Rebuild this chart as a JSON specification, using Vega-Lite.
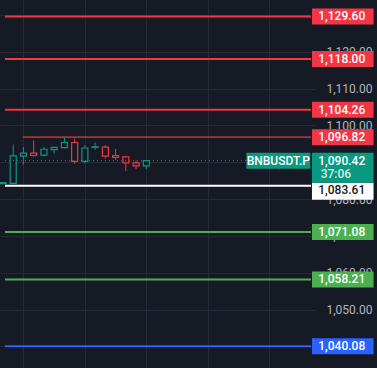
{
  "$schema": "https://vega.github.io/schema/vega-lite/v6.json",
  "width": 316,
  "height": 368,
  "autosize": {"type": "none"},
  "padding": {"left": 0, "top": 0, "right": 61, "bottom": 0},
  "background": "#161a25",
  "config": {"view": {"stroke": null}, "font": "Roboto"},
  "datasets": {
    "candles": [
      {"i": 0, "o": 1084.2, "h": 1084.5, "l": 1084.1, "c": 1084.45},
      {"i": 1, "o": 1084.28, "h": 1094.85, "l": 1084.2, "c": 1091.76},
      {"i": 2, "o": 1091.68, "h": 1094.13, "l": 1089.38, "c": 1092.47},
      {"i": 3, "o": 1092.47, "h": 1095.98, "l": 1091.49, "c": 1091.84},
      {"i": 4, "o": 1091.94, "h": 1094.13, "l": 1091.57, "c": 1093.53},
      {"i": 5, "o": 1093.42, "h": 1094.13, "l": 1092.36, "c": 1094.05},
      {"i": 6, "o": 1093.95, "h": 1096.77, "l": 1093.79, "c": 1095.37},
      {"i": 7, "o": 1095.37, "h": 1096.43, "l": 1089.57, "c": 1090.25},
      {"i": 8, "o": 1090.25, "h": 1094.66, "l": 1089.72, "c": 1093.87},
      {"i": 9, "o": 1094.05, "h": 1095.37, "l": 1093.42, "c": 1094.2},
      {"i": 10, "o": 1094.13, "h": 1094.66, "l": 1090.97, "c": 1091.68},
      {"i": 11, "o": 1091.84, "h": 1093.61, "l": 1090.62, "c": 1091.31},
      {"i": 12, "o": 1091.49, "h": 1091.55, "l": 1087.61, "c": 1089.83},
      {"i": 13, "o": 1089.83, "h": 1090.44, "l": 1088.14, "c": 1089.04},
      {"i": 14, "o": 1089.04, "h": 1090.45, "l": 1088.14, "c": 1090.42}
    ],
    "levels": [
      {"price": 1129.60, "kind": "resistance"},
      {"price": 1118.00, "kind": "resistance"},
      {"price": 1104.26, "kind": "resistance"},
      {"price": 1096.82, "kind": "resistance"},
      {"price": 1083.61, "kind": "pivot"},
      {"price": 1071.08, "kind": "support"},
      {"price": 1058.21, "kind": "support"},
      {"price": 1040.08, "kind": "target"}
    ],
    "current": [
      {"price": 1090.42, "symbol": "BNBUSDT.P", "countdown": "37:06"}
    ]
  },
  "layer": [
    {
      "data": {"name": "candles"},
      "mark": {"type": "rule", "strokeWidth": 1, "clip": true},
      "encoding": {
        "x": {"field": "i", "type": "quantitative", "title": null,
              "scale": {"domain": [0.196, 30.09], "nice": false, "zero": false},
              "axis": {"grid": true, "values": [2, 8, 14, 20, 26], "labels": false, "ticks": false, "domain": false, "title": null, "gridColor": "#262a36", "gridWidth": 1}},
        "y": {"field": "l", "type": "quantitative", "title": null,
              "scale": {"domain": [1035.51, 1132.69], "nice": false, "zero": false},
              "axis": {"orient": "right", "values": [1040, 1050, 1060, 1070, 1080, 1090, 1100, 1110, 1120, 1130], "format": ",.2f", "labelExpr": "datum.value == 1040 || datum.value == 1090 || datum.value == 1130 ? '' : datum.label", "labelAlign": "right", "labelPadding": 56, "labelColor": "#b2b5be", "labelFontSize": 12, "labelFont": "Roboto", "labelBaseline": "middle", "ticks": false, "domain": false, "title": null, "grid": true, "gridColor": "#262a36", "gridWidth": 1, "labelOverlap": false, "labelBound": false, "labelFlush": false}},
        "y2": {"field": "h"},
        "stroke": {"condition": {"test": "datum.c >= datum.o", "value": "#089981"}, "value": "#f23645"}
      }
    },
    {
      "data": {"name": "candles"},
      "mark": {"type": "bar", "width": 6, "strokeWidth": 1.2, "fill": "#161a25", "clip": true},
      "encoding": {
        "x": {"field": "i", "type": "quantitative", "title": null},
        "y": {"field": "o", "type": "quantitative", "title": null},
        "y2": {"field": "c"},
        "stroke": {"condition": {"test": "datum.c >= datum.o", "value": "#089981"}, "value": "#f23645"}
      }
    },
    {
      "data": {"name": "current"},
      "mark": {"type": "rule", "strokeWidth": 1, "strokeDash": [1, 3], "color": "#089981"},
      "encoding": {
        "x": {"datum": 0.196, "type": "quantitative", "title": null},
        "x2": {"datum": 30.09},
        "y": {"field": "price", "type": "quantitative", "title": null}
      }
    },
    {
      "data": {"name": "levels"},
      "transform": [{"filter": "datum.price != 1096.82"}],
      "mark": {"type": "rule", "strokeWidth": 2},
      "encoding": {
        "x": {"datum": 0.196, "type": "quantitative", "title": null},
        "x2": {"datum": 30.09},
        "y": {"field": "price", "type": "quantitative", "title": null},
        "stroke": {"field": "kind", "type": "nominal", "scale": {"domain": ["resistance", "pivot", "support", "target"], "range": ["#f23645", "#ffffff", "#4caf50", "#2962ff"]}, "legend": null}
      }
    },
    {
      "data": {"name": "levels"},
      "transform": [{"filter": "datum.price == 1096.82"}],
      "mark": {"type": "rule", "strokeWidth": 1.2},
      "encoding": {
        "x": {"datum": 1.927, "type": "quantitative", "title": null},
        "x2": {"datum": 30.09},
        "y": {"field": "price", "type": "quantitative", "title": null},
        "stroke": {"field": "kind", "type": "nominal", "scale": {"domain": ["resistance", "pivot", "support", "target"], "range": ["#f23645", "#ffffff", "#4caf50", "#2962ff"]}, "legend": null}
      }
    },
    {
      "data": {"name": "levels"},
      "transform": [{"filter": "datum.kind != 'pivot'"}],
      "mark": {"type": "bar", "height": 16},
      "encoding": {
        "x": {"datum": 30.185, "type": "quantitative", "title": null},
        "x2": {"datum": 36.2},
        "y": {"field": "price", "type": "quantitative", "title": null},
        "fill": {"field": "kind", "type": "nominal", "scale": {"domain": ["resistance", "pivot", "support", "target"], "range": ["#f23645", "#ffffff", "#4caf50", "#2962ff"]}, "legend": null}
      }
    },
    {
      "data": {"name": "levels"},
      "transform": [{"filter": "datum.kind != 'pivot'"}],
      "mark": {"type": "text", "align": "right", "baseline": "middle", "fontSize": 12, "font": "Roboto", "fontWeight": 500, "fill": "#ffffff"},
      "encoding": {
        "x": {"datum": 35.388, "type": "quantitative", "title": null},
        "y": {"field": "price", "type": "quantitative", "title": null},
        "text": {"field": "price", "type": "quantitative", "format": ",.2f"}
      }
    },
    {
      "data": {"name": "levels"},
      "transform": [{"filter": "datum.kind == 'pivot'"}],
      "mark": {"type": "bar", "height": 17, "yOffset": 5.5, "fill": "#ffffff"},
      "encoding": {
        "x": {"datum": 30.185, "type": "quantitative", "title": null},
        "x2": {"datum": 36.2},
        "y": {"field": "price", "type": "quantitative", "title": null}
      }
    },
    {
      "data": {"name": "levels"},
      "transform": [{"filter": "datum.kind == 'pivot'"}],
      "mark": {"type": "text", "align": "right", "baseline": "middle", "fontSize": 12, "font": "Roboto", "fontWeight": 500, "fill": "#131722", "dy": 4.5},
      "encoding": {
        "x": {"datum": 35.388, "type": "quantitative", "title": null},
        "y": {"field": "price", "type": "quantitative", "title": null},
        "text": {"field": "price", "type": "quantitative", "format": ",.2f"}
      }
    },
    {
      "data": {"name": "current"},
      "mark": {"type": "bar", "height": 16, "fill": "#089981"},
      "encoding": {
        "x": {"datum": 23.78, "type": "quantitative", "title": null},
        "x2": {"datum": 30.024},
        "y": {"field": "price", "type": "quantitative", "title": null}
      }
    },
    {
      "data": {"name": "current"},
      "mark": {"type": "bar", "height": 30, "yOffset": 7, "fill": "#089981"},
      "encoding": {
        "x": {"datum": 30.185, "type": "quantitative", "title": null},
        "x2": {"datum": 36.2},
        "y": {"field": "price", "type": "quantitative", "title": null}
      }
    },
    {
      "data": {"name": "current"},
      "mark": {"type": "text", "align": "center", "baseline": "middle", "fontSize": 12, "font": "Roboto", "fontWeight": 500, "fill": "#ffffff"},
      "encoding": {
        "x": {"datum": 26.90, "type": "quantitative", "title": null},
        "y": {"field": "price", "type": "quantitative", "title": null},
        "text": {"field": "symbol", "type": "nominal"}
      }
    },
    {
      "data": {"name": "current"},
      "mark": {"type": "text", "align": "right", "baseline": "middle", "fontSize": 12, "font": "Roboto", "fontWeight": 500, "fill": "#ffffff"},
      "encoding": {
        "x": {"datum": 35.388, "type": "quantitative", "title": null},
        "y": {"field": "price", "type": "quantitative", "title": null},
        "text": {"field": "price", "type": "quantitative", "format": ",.2f"}
      }
    },
    {
      "data": {"name": "current"},
      "mark": {"type": "text", "align": "left", "baseline": "middle", "fontSize": 12, "font": "Roboto", "fontWeight": 500, "fill": "#d6efe9", "dy": 13},
      "encoding": {
        "x": {"datum": 31.036, "type": "quantitative", "title": null},
        "y": {"field": "price", "type": "quantitative", "title": null},
        "text": {"field": "countdown", "type": "nominal"}
      }
    }
  ]
}
